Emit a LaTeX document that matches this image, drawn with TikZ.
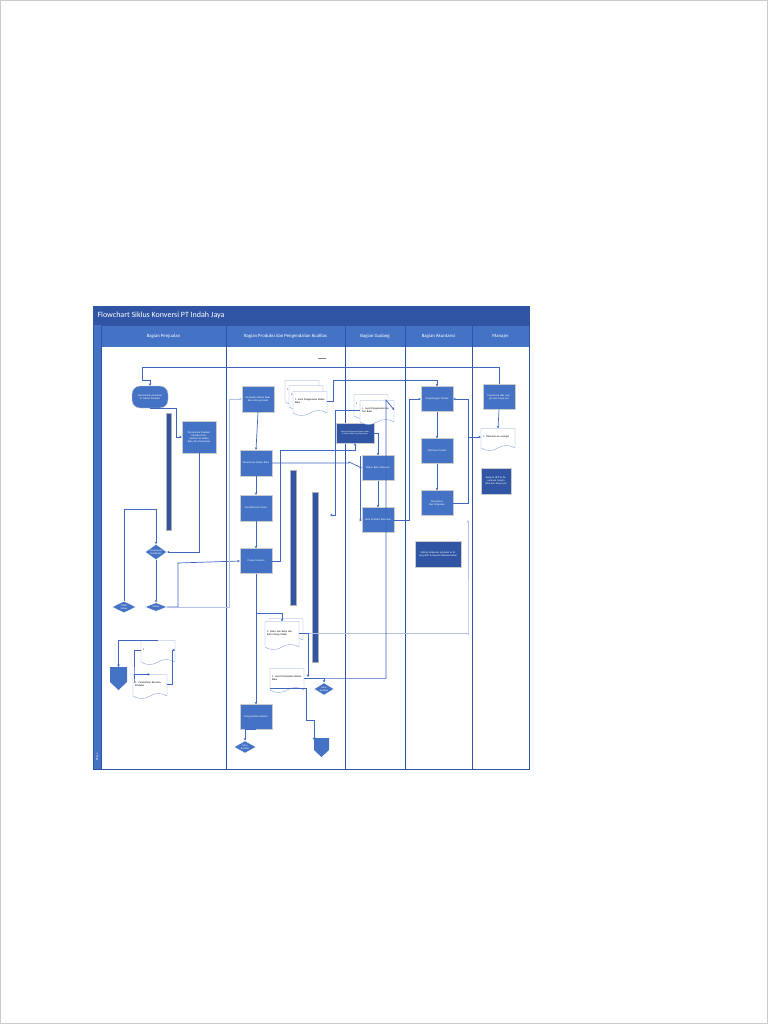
\documentclass[tikz,border=0pt]{standalone}
\usepackage{fontspec}
\setmainfont{Carlito}
\usetikzlibrary{shapes.geometric,shapes.symbols,arrows.meta}
\definecolor{bb}{HTML}{4472C4}
\definecolor{bd}{HTML}{2F55A4}
\definecolor{ln}{HTML}{3E67BF}
\begin{document}
\begin{tikzpicture}[x=1pt,y=-1pt,
 tiny/.style={font=\fontsize{2.6}{3}\selectfont},
 proc/.style={draw=gray!40,fill=bb,text=white,tiny,minimum width=32pt,minimum height=26pt,text width=28pt,align=center,inner sep=1pt},
 term/.style={proc,rounded corners=8pt,minimum width=36pt,minimum height=22pt},
 dec/.style={diamond,draw=white,fill=bb,text=white,tiny,aspect=1.4,inner sep=0.5pt,align=center},
 docu/.style={tape,tape bend top=none,draw=ln!60,fill=white,tiny,minimum width=34pt,minimum height=24pt,text width=30pt,align=left,inner sep=1pt},
 bar/.style={fill=bd,draw=gray!60},
 conn/.style={draw=ln,line width=0.7pt,-{Stealth[length=2.5pt,width=2.5pt]}},
 lane/.style={draw=bd,line width=0.6pt},
 offp/.style={fill=bb}]
\useasboundingbox (0,0) rectangle (768,1024);
\draw[gray!40] (0.5,0.5) rectangle (767.5,1023.5);
% frame
\fill[bd] (93,306) rectangle (529,325);
\node[anchor=west,text=white,font=\fontsize{8}{9}\selectfont] (title) at (94,315.5) {Flowchart Siklus Konversi PT Indah Jaya};
\fill[bb] (93,325) rectangle (101,769);
\node[rotate=90,text=white,font=\fontsize{3}{3}\selectfont] (ph) at (97,757) {Phase};
\foreach \a/\b/\t [count=\i] in {101/226/Bagian Penjualan,226/345/Bagian Produksi dan Pengendalian Kualitas,345/405/Bagian Gudang,405/472/Bagian Akuntansi,472/529/Manajer}{
 \fill[bb] (\a,325) rectangle (\b,347);
 \node[text=white,font=\fontsize{4.8}{5}\selectfont] (h\i) at ({(\a+\b)/2},336) {\t};
 \draw[lane] (\a,325) rectangle (\b,769);
}
\draw[bd,line width=0.8pt] (93,306) rectangle (529,769);
\draw[gray] (318,358)--(326,358);
% Penjualan
\node[term] (t1) at (150,397) {Menentukan Kuantitas \& Jadwal Produksi};
\node[proc,minimum width=34pt,minimum height=32pt] (p1) at (199,437) {Permintaan Produksi Membuat Permintaan ke Bahan Baku dan Persediaan};
\fill[bar] (166,413) rectangle (171,530);
\node[dec] (d1) at (156,552) {Persetujuan\\Pembelian};
\node[dec,minimum width=24pt] (d2) at (124,607) {Tidak\\Setuju};
\node[dec,minimum width=22pt] (d3) at (156,607) {Setuju};
\node[docu] (doc1) at (158,650) {1};
\node[docu] (doc2) at (150,684) {1.\ \ Permintaan Rencana Produksi};
\fill[offp] (110,667) -- (127,667) -- (127,682) -- (118.5,690) -- (110,682) -- cycle;
\coordinate (off1) at (118.5,667);
% Produksi
\node[proc] (p2) at (258,399) {Pembelian Bahan Baku Baru dari pemasok};
\node[proc] (p3) at (256,463) {Penerimaan Bahan Baku};
\node[proc] (p4) at (256,508) {Pemeliharaan Mesin};
\node[proc,minimum height=25pt] (p5) at (256,561) {Proses Produksi};
\node[proc,minimum height=25pt] (p6) at (256,717) {Pengendalian Kualitas};
\node[docu,fill=white] at (302,390) {1};
\node[docu,fill=white] at (306,395) {2};
\node[docu] (doc3) at (310,401) {1.\ Surat Pengeluaran Bahan Baku};
\fill[bar] (290,470) rectangle (296,605);
\fill[bar] (312,492) rectangle (318,662);
\node[docu,fill=white] at (286,628) {2};
\node[docu,minimum height=28pt] (doc4) at (282,633) {2. Kartu Jam Kerja dan Kartu Harga Pokok};
\node[docu] (doc5) at (287,678) {1. Surat Permintaan Bahan Baku};
\node[dec,minimum width=20pt] (d4) at (324,689) {Lolos\\Kualitas};
\node[dec,minimum width=22pt] (d5) at (245,747) {Lolos\\Kualitas};
\fill[offp] (314,738) -- (329,738) -- (329,750) -- (321.5,757) -- (314,750) -- cycle;
\coordinate (off2) at (314,740);
% Gudang
\node[proc,fill=bd,minimum width=38pt,minimum height=20pt,text width=36pt,font=\fontsize{2}{2.4}\selectfont] (g0) at (355,433) {Menerima/Mengecek bahan baku \& Bahan Baku yang Digunakan};
\node[docu,fill=white] at (371,404) {1};
\node[docu] (doc6) at (377,410) {1. Surat Pengeluaran Bahan Baku};
\node[proc,minimum height=25pt] (g1) at (378,468) {Bahan Baku Disimpan};
\node[proc,minimum height=25pt] (g2) at (378,520) {Hasil Produksi Disimpan};
% Akuntansi
\node[proc,minimum height=25pt] (a1) at (437,399) {Penghitungan Produk};
\node[proc,minimum height=25pt] (a2) at (437,451) {Distribusi Produk};
\node[proc,minimum height=25pt] (a3) at (437,503) {Pencatatan Dan Pelaporan};
\node[proc,fill=bd,minimum width=46pt,text width=44pt,minimum height=26pt] (a4) at (438,554) {Validasi dokumen produksi \& hitung HPP \& laporan dikonsumsikan};
% Manajer
\node[proc,minimum height=25pt] (m1) at (499,397) {Penentuan laba margin dan harga jual};
\node[docu,minimum height=22pt] (m2) at (498,437) {1. Dokumen ke manajer};
\node[proc,fill=bd,minimum width=30pt,text width=28pt] (m3) at (496,481) {Evaluasi HPP \& Penentuan margin laba dan harga jual};
% connectors
\draw[conn] (m1.north) |- (142,367) |- (142,380) -| (t1.north);
\draw[conn] (t1.south) |- (176,408) |- (p1.west);
\draw[conn] (p1.south) |- (d1.east);
\draw[conn] (d1.south) -- (d3.north);
\draw[conn] (d2.north) |- (156,509) -- (d1.north);
\draw[conn] (d3.east) -| (178,563) -- (p5.west);
\draw[conn,draw=ln!40] (d3.east) -- (229,607) |- (p2.west);
\draw[conn] (doc1.north) -| (off1);
\draw[conn] (doc1.west) -| (134,683) |- (doc2.north);
\draw[conn] (doc2.east) -| (172,650) -- (doc1.east);
\draw[conn] (p2.south) -- (p3.north);
\draw[conn] (p3.south) -- (p4.north);
\draw[conn] (p4.south) -- (p5.north);
\draw[conn] (p5.south) -- (p6.north);
\draw[conn] (p6.south) -| (d5.north);
\draw[conn] (p5.east) -| (280,450) -| (g0.south);
\draw[conn] (p5.south) ++(0,40) -| (doc4.north);
\draw[conn] (doc3.east) -| (333,380) -| (a1.north);
\draw[conn] (doc6.west) -| (335,515) -- (330,515);
\draw[conn] (g0.east) -| (g1.north);
\draw[conn] (p3.east) -| (349,462) -- (g1.west);
\draw[conn] (g1.south) -- (g2.north);
\draw[conn] (360,456) |- (g2.west);
\draw[conn] (g2.east) -| (409,399) -- (a1.west);
\draw[conn] (a1.south) -- (a2.north);
\draw[conn] (a2.south) -- (a3.north);
\draw[conn] (a3.east) -| (468,437) -- (m2.west);
\draw[conn] (m1.south) -- (m2.north);
\draw[conn] (468,437) |- (a1.east);
\draw[conn,draw=ln!40] (doc4.east) -| (468,635) -- (468,520);
\draw[conn] (doc5.east) -| (d4.north);
\draw[conn] (d4.north) ++(0,-4) -| (386,400) -- (doc6.east);
\draw[conn] (doc5.west) ++(0,10) -| (306,720) -| (off2);
\draw[conn] (doc4.east) -| (308,677);
\end{tikzpicture}
\end{document}
